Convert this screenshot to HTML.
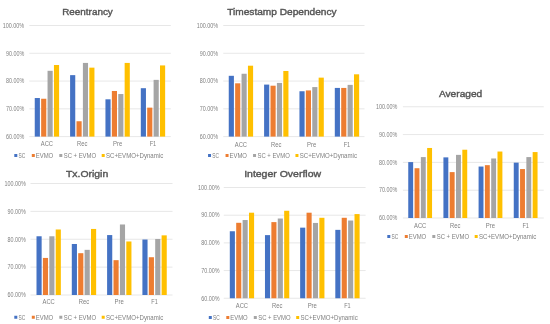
<!DOCTYPE html>
<html lang="en"><head><meta charset="utf-8"><title>Charts</title>
<style>html,body{margin:0;padding:0;background:#fff;}body{width:550px;height:324px;overflow:hidden;}svg{display:block;}</style></head>
<body>
<svg width="550" height="324" viewBox="0 0 550 324" font-family='&quot;Liberation Sans&quot;, sans-serif'>
<rect width="550" height="324" fill="#ffffff"/>
<g>
<line x1="29.30" y1="25.50" x2="170.80" y2="25.50" stroke="#d6d6d6" stroke-width="0.6"/>
<text x="24.20" y="27.80" font-size="6.5" fill="#808080" text-anchor="end" textLength="21.40" lengthAdjust="spacingAndGlyphs">100.00%</text>
<line x1="29.30" y1="53.27" x2="170.80" y2="53.27" stroke="#d6d6d6" stroke-width="0.6"/>
<text x="24.20" y="55.57" font-size="6.5" fill="#808080" text-anchor="end" textLength="18.30" lengthAdjust="spacingAndGlyphs">90.00%</text>
<line x1="29.30" y1="81.05" x2="170.80" y2="81.05" stroke="#d6d6d6" stroke-width="0.6"/>
<text x="24.20" y="83.35" font-size="6.5" fill="#808080" text-anchor="end" textLength="18.30" lengthAdjust="spacingAndGlyphs">80.00%</text>
<line x1="29.30" y1="108.82" x2="170.80" y2="108.82" stroke="#d6d6d6" stroke-width="0.6"/>
<text x="24.20" y="111.12" font-size="6.5" fill="#808080" text-anchor="end" textLength="18.30" lengthAdjust="spacingAndGlyphs">70.00%</text>
<line x1="29.30" y1="136.60" x2="170.80" y2="136.60" stroke="#d6d6d6" stroke-width="0.6"/>
<text x="24.20" y="138.90" font-size="6.5" fill="#808080" text-anchor="end" textLength="18.30" lengthAdjust="spacingAndGlyphs">60.00%</text>
<rect x="34.75" y="98.03" width="5.15" height="38.57" fill="#4472C4"/>
<rect x="41.15" y="98.75" width="5.15" height="37.85" fill="#ED7D31"/>
<rect x="47.55" y="70.81" width="5.15" height="65.79" fill="#A5A5A5"/>
<rect x="53.95" y="65.01" width="5.15" height="71.59" fill="#FFC000"/>
<text x="46.92" y="146.05" font-size="6.3" fill="#808080" text-anchor="middle" textLength="12.25" lengthAdjust="spacingAndGlyphs">ACC</text>
<rect x="70.10" y="75.14" width="5.15" height="61.45" fill="#4472C4"/>
<rect x="76.50" y="121.25" width="5.15" height="15.35" fill="#ED7D31"/>
<rect x="82.90" y="62.92" width="5.15" height="73.68" fill="#A5A5A5"/>
<rect x="89.30" y="67.65" width="5.15" height="68.95" fill="#FFC000"/>
<text x="82.27" y="146.05" font-size="6.3" fill="#808080" text-anchor="middle" textLength="10.40" lengthAdjust="spacingAndGlyphs">Rec</text>
<rect x="105.45" y="99.31" width="5.15" height="37.29" fill="#4472C4"/>
<rect x="111.85" y="90.98" width="5.15" height="45.62" fill="#ED7D31"/>
<rect x="118.25" y="94.03" width="5.15" height="42.57" fill="#A5A5A5"/>
<rect x="124.65" y="62.92" width="5.15" height="73.68" fill="#FFC000"/>
<text x="117.62" y="146.05" font-size="6.3" fill="#808080" text-anchor="middle" textLength="9.30" lengthAdjust="spacingAndGlyphs">Pre</text>
<rect x="140.80" y="88.20" width="5.15" height="48.40" fill="#4472C4"/>
<rect x="147.20" y="107.64" width="5.15" height="28.96" fill="#ED7D31"/>
<rect x="153.60" y="79.87" width="5.15" height="56.73" fill="#A5A5A5"/>
<rect x="160.00" y="65.42" width="5.15" height="71.18" fill="#FFC000"/>
<text x="152.98" y="146.05" font-size="6.3" fill="#808080" text-anchor="middle" textLength="6.50" lengthAdjust="spacingAndGlyphs">F1</text>
<text x="87.50" y="14.80" font-size="9.6" fill="#555555" stroke="#555555" stroke-width="0.4" text-anchor="middle" textLength="50.60" lengthAdjust="spacingAndGlyphs">Reentrancy</text>
<rect x="14.30" y="154.00" width="3" height="3" fill="#4472C4"/>
<text x="18.60" y="157.75" font-size="6.3" fill="#808080" textLength="6.70" lengthAdjust="spacingAndGlyphs">SC</text>
<rect x="31.80" y="154.00" width="3" height="3" fill="#ED7D31"/>
<text x="35.75" y="157.75" font-size="6.3" fill="#808080" textLength="17.40" lengthAdjust="spacingAndGlyphs">EVMO</text>
<rect x="59.30" y="154.00" width="3" height="3" fill="#A5A5A5"/>
<text x="63.75" y="157.75" font-size="6.3" fill="#808080" textLength="32.30" lengthAdjust="spacingAndGlyphs">SC + EVMO</text>
<rect x="101.70" y="154.00" width="3" height="3" fill="#FFC000"/>
<text x="106.00" y="157.75" font-size="6.3" fill="#808080" textLength="57.20" lengthAdjust="spacingAndGlyphs">SC+EVMO+Dynamic</text>
</g>
<g>
<line x1="223.25" y1="25.50" x2="364.50" y2="25.50" stroke="#d6d6d6" stroke-width="0.6"/>
<text x="218.10" y="27.80" font-size="6.5" fill="#808080" text-anchor="end" textLength="21.40" lengthAdjust="spacingAndGlyphs">100.00%</text>
<line x1="223.25" y1="53.27" x2="364.50" y2="53.27" stroke="#d6d6d6" stroke-width="0.6"/>
<text x="218.10" y="55.57" font-size="6.5" fill="#808080" text-anchor="end" textLength="18.30" lengthAdjust="spacingAndGlyphs">90.00%</text>
<line x1="223.25" y1="81.05" x2="364.50" y2="81.05" stroke="#d6d6d6" stroke-width="0.6"/>
<text x="218.10" y="83.35" font-size="6.5" fill="#808080" text-anchor="end" textLength="18.30" lengthAdjust="spacingAndGlyphs">80.00%</text>
<line x1="223.25" y1="108.82" x2="364.50" y2="108.82" stroke="#d6d6d6" stroke-width="0.6"/>
<text x="218.10" y="111.12" font-size="6.5" fill="#808080" text-anchor="end" textLength="18.30" lengthAdjust="spacingAndGlyphs">70.00%</text>
<line x1="223.25" y1="136.60" x2="364.50" y2="136.60" stroke="#d6d6d6" stroke-width="0.6"/>
<text x="218.10" y="138.90" font-size="6.5" fill="#808080" text-anchor="end" textLength="18.30" lengthAdjust="spacingAndGlyphs">60.00%</text>
<rect x="228.75" y="75.81" width="5.15" height="60.79" fill="#4472C4"/>
<rect x="235.15" y="83.31" width="5.15" height="53.29" fill="#ED7D31"/>
<rect x="241.55" y="73.76" width="5.15" height="62.84" fill="#A5A5A5"/>
<rect x="247.95" y="65.70" width="5.15" height="70.90" fill="#FFC000"/>
<text x="240.93" y="146.55" font-size="6.3" fill="#808080" text-anchor="middle" textLength="12.25" lengthAdjust="spacingAndGlyphs">ACC</text>
<rect x="264.10" y="84.59" width="5.15" height="52.01" fill="#4472C4"/>
<rect x="270.50" y="85.70" width="5.15" height="50.90" fill="#ED7D31"/>
<rect x="276.90" y="82.92" width="5.15" height="53.68" fill="#A5A5A5"/>
<rect x="283.30" y="70.98" width="5.15" height="65.62" fill="#FFC000"/>
<text x="276.28" y="146.55" font-size="6.3" fill="#808080" text-anchor="middle" textLength="10.40" lengthAdjust="spacingAndGlyphs">Rec</text>
<rect x="299.45" y="91.25" width="5.15" height="45.35" fill="#4472C4"/>
<rect x="305.85" y="90.42" width="5.15" height="46.18" fill="#ED7D31"/>
<rect x="312.25" y="87.09" width="5.15" height="49.51" fill="#A5A5A5"/>
<rect x="318.65" y="77.64" width="5.15" height="58.96" fill="#FFC000"/>
<text x="311.62" y="146.55" font-size="6.3" fill="#808080" text-anchor="middle" textLength="9.30" lengthAdjust="spacingAndGlyphs">Pre</text>
<rect x="334.80" y="87.92" width="5.15" height="48.68" fill="#4472C4"/>
<rect x="341.20" y="87.92" width="5.15" height="48.68" fill="#ED7D31"/>
<rect x="347.60" y="84.87" width="5.15" height="51.73" fill="#A5A5A5"/>
<rect x="354.00" y="74.31" width="5.15" height="62.29" fill="#FFC000"/>
<text x="346.98" y="146.55" font-size="6.3" fill="#808080" text-anchor="middle" textLength="6.50" lengthAdjust="spacingAndGlyphs">F1</text>
<text x="281.90" y="14.80" font-size="9.6" fill="#555555" stroke="#555555" stroke-width="0.4" text-anchor="middle" textLength="109.40" lengthAdjust="spacingAndGlyphs">Timestamp Dependency</text>
<rect x="208.05" y="154.00" width="3" height="3" fill="#4472C4"/>
<text x="212.35" y="157.75" font-size="6.3" fill="#808080" textLength="6.70" lengthAdjust="spacingAndGlyphs">SC</text>
<rect x="225.55" y="154.00" width="3" height="3" fill="#ED7D31"/>
<text x="229.50" y="157.75" font-size="6.3" fill="#808080" textLength="17.40" lengthAdjust="spacingAndGlyphs">EVMO</text>
<rect x="253.05" y="154.00" width="3" height="3" fill="#A5A5A5"/>
<text x="257.50" y="157.75" font-size="6.3" fill="#808080" textLength="32.30" lengthAdjust="spacingAndGlyphs">SC + EVMO</text>
<rect x="295.45" y="154.00" width="3" height="3" fill="#FFC000"/>
<text x="299.75" y="157.75" font-size="6.3" fill="#808080" textLength="57.20" lengthAdjust="spacingAndGlyphs">SC+EVMO+Dynamic</text>
</g>
<g>
<line x1="30.50" y1="183.50" x2="172.50" y2="183.50" stroke="#d6d6d6" stroke-width="0.6"/>
<text x="25.80" y="185.80" font-size="6.5" fill="#808080" text-anchor="end" textLength="21.40" lengthAdjust="spacingAndGlyphs">100.00%</text>
<line x1="30.50" y1="211.38" x2="172.50" y2="211.38" stroke="#d6d6d6" stroke-width="0.6"/>
<text x="25.80" y="213.68" font-size="6.5" fill="#808080" text-anchor="end" textLength="18.30" lengthAdjust="spacingAndGlyphs">90.00%</text>
<line x1="30.50" y1="239.25" x2="172.50" y2="239.25" stroke="#d6d6d6" stroke-width="0.6"/>
<text x="25.80" y="241.55" font-size="6.5" fill="#808080" text-anchor="end" textLength="18.30" lengthAdjust="spacingAndGlyphs">80.00%</text>
<line x1="30.50" y1="267.12" x2="172.50" y2="267.12" stroke="#d6d6d6" stroke-width="0.6"/>
<text x="25.80" y="269.43" font-size="6.5" fill="#808080" text-anchor="end" textLength="18.30" lengthAdjust="spacingAndGlyphs">70.00%</text>
<line x1="30.50" y1="295.00" x2="172.50" y2="295.00" stroke="#d6d6d6" stroke-width="0.6"/>
<text x="25.80" y="297.30" font-size="6.5" fill="#808080" text-anchor="end" textLength="18.30" lengthAdjust="spacingAndGlyphs">60.00%</text>
<rect x="36.50" y="236.27" width="5.15" height="58.73" fill="#4472C4"/>
<rect x="42.90" y="257.93" width="5.15" height="37.07" fill="#ED7D31"/>
<rect x="49.30" y="236.27" width="5.15" height="58.73" fill="#A5A5A5"/>
<rect x="55.70" y="229.49" width="5.15" height="65.51" fill="#FFC000"/>
<text x="48.67" y="304.10" font-size="6.3" fill="#808080" text-anchor="middle" textLength="12.25" lengthAdjust="spacingAndGlyphs">ACC</text>
<rect x="71.80" y="243.99" width="5.15" height="51.01" fill="#4472C4"/>
<rect x="78.20" y="253.19" width="5.15" height="41.81" fill="#ED7D31"/>
<rect x="84.60" y="249.84" width="5.15" height="45.16" fill="#A5A5A5"/>
<rect x="91.00" y="228.94" width="5.15" height="66.06" fill="#FFC000"/>
<text x="83.97" y="304.10" font-size="6.3" fill="#808080" text-anchor="middle" textLength="10.40" lengthAdjust="spacingAndGlyphs">Rec</text>
<rect x="107.10" y="235.07" width="5.15" height="59.93" fill="#4472C4"/>
<rect x="113.50" y="260.16" width="5.15" height="34.84" fill="#ED7D31"/>
<rect x="119.90" y="224.48" width="5.15" height="70.52" fill="#A5A5A5"/>
<rect x="126.30" y="241.48" width="5.15" height="53.52" fill="#FFC000"/>
<text x="119.27" y="304.10" font-size="6.3" fill="#808080" text-anchor="middle" textLength="9.30" lengthAdjust="spacingAndGlyphs">Pre</text>
<rect x="142.40" y="239.53" width="5.15" height="55.47" fill="#4472C4"/>
<rect x="148.80" y="257.23" width="5.15" height="37.77" fill="#ED7D31"/>
<rect x="155.20" y="238.97" width="5.15" height="56.03" fill="#A5A5A5"/>
<rect x="161.60" y="235.35" width="5.15" height="59.65" fill="#FFC000"/>
<text x="154.57" y="304.10" font-size="6.3" fill="#808080" text-anchor="middle" textLength="6.50" lengthAdjust="spacingAndGlyphs">F1</text>
<text x="87.10" y="176.50" font-size="9.6" fill="#555555" stroke="#555555" stroke-width="0.4" text-anchor="middle" textLength="42.30" lengthAdjust="spacingAndGlyphs">Tx.Origin</text>
<rect x="14.30" y="315.75" width="3" height="3" fill="#4472C4"/>
<text x="18.60" y="319.50" font-size="6.3" fill="#808080" textLength="6.70" lengthAdjust="spacingAndGlyphs">SC</text>
<rect x="31.80" y="315.75" width="3" height="3" fill="#ED7D31"/>
<text x="35.75" y="319.50" font-size="6.3" fill="#808080" textLength="17.40" lengthAdjust="spacingAndGlyphs">EVMO</text>
<rect x="59.30" y="315.75" width="3" height="3" fill="#A5A5A5"/>
<text x="63.75" y="319.50" font-size="6.3" fill="#808080" textLength="32.30" lengthAdjust="spacingAndGlyphs">SC + EVMO</text>
<rect x="101.70" y="315.75" width="3" height="3" fill="#FFC000"/>
<text x="106.00" y="319.50" font-size="6.3" fill="#808080" textLength="57.20" lengthAdjust="spacingAndGlyphs">SC+EVMO+Dynamic</text>
</g>
<g>
<line x1="223.75" y1="187.50" x2="365.60" y2="187.50" stroke="#d6d6d6" stroke-width="0.6"/>
<text x="219.50" y="189.80" font-size="6.5" fill="#808080" text-anchor="end" textLength="21.40" lengthAdjust="spacingAndGlyphs">100.00%</text>
<line x1="223.75" y1="215.19" x2="365.60" y2="215.19" stroke="#d6d6d6" stroke-width="0.6"/>
<text x="219.50" y="217.49" font-size="6.5" fill="#808080" text-anchor="end" textLength="18.30" lengthAdjust="spacingAndGlyphs">90.00%</text>
<line x1="223.75" y1="242.88" x2="365.60" y2="242.88" stroke="#d6d6d6" stroke-width="0.6"/>
<text x="219.50" y="245.18" font-size="6.5" fill="#808080" text-anchor="end" textLength="18.30" lengthAdjust="spacingAndGlyphs">80.00%</text>
<line x1="223.75" y1="270.56" x2="365.60" y2="270.56" stroke="#d6d6d6" stroke-width="0.6"/>
<text x="219.50" y="272.86" font-size="6.5" fill="#808080" text-anchor="end" textLength="18.30" lengthAdjust="spacingAndGlyphs">70.00%</text>
<line x1="223.75" y1="298.25" x2="365.60" y2="298.25" stroke="#d6d6d6" stroke-width="0.6"/>
<text x="219.50" y="300.55" font-size="6.5" fill="#808080" text-anchor="end" textLength="18.30" lengthAdjust="spacingAndGlyphs">60.00%</text>
<rect x="229.80" y="231.25" width="5.10" height="67.00" fill="#4472C4"/>
<rect x="236.20" y="222.80" width="5.10" height="75.45" fill="#ED7D31"/>
<rect x="242.60" y="220.03" width="5.10" height="78.22" fill="#A5A5A5"/>
<rect x="249.00" y="212.70" width="5.10" height="85.55" fill="#FFC000"/>
<text x="241.95" y="307.55" font-size="6.3" fill="#808080" text-anchor="middle" textLength="12.25" lengthAdjust="spacingAndGlyphs">ACC</text>
<rect x="264.97" y="235.12" width="5.10" height="63.13" fill="#4472C4"/>
<rect x="271.37" y="222.11" width="5.10" height="76.14" fill="#ED7D31"/>
<rect x="277.77" y="218.51" width="5.10" height="79.74" fill="#A5A5A5"/>
<rect x="284.17" y="210.76" width="5.10" height="87.49" fill="#FFC000"/>
<text x="277.12" y="307.55" font-size="6.3" fill="#808080" text-anchor="middle" textLength="10.40" lengthAdjust="spacingAndGlyphs">Rec</text>
<rect x="300.14" y="227.65" width="5.10" height="70.60" fill="#4472C4"/>
<rect x="306.54" y="212.70" width="5.10" height="85.55" fill="#ED7D31"/>
<rect x="312.94" y="222.94" width="5.10" height="75.31" fill="#A5A5A5"/>
<rect x="319.34" y="217.79" width="5.10" height="80.46" fill="#FFC000"/>
<text x="312.29" y="307.55" font-size="6.3" fill="#808080" text-anchor="middle" textLength="9.30" lengthAdjust="spacingAndGlyphs">Pre</text>
<rect x="335.31" y="229.86" width="5.10" height="68.39" fill="#4472C4"/>
<rect x="341.71" y="217.79" width="5.10" height="80.46" fill="#ED7D31"/>
<rect x="348.11" y="220.53" width="5.10" height="77.72" fill="#A5A5A5"/>
<rect x="354.51" y="214.08" width="5.10" height="84.17" fill="#FFC000"/>
<text x="347.46" y="307.55" font-size="6.3" fill="#808080" text-anchor="middle" textLength="6.50" lengthAdjust="spacingAndGlyphs">F1</text>
<text x="282.60" y="176.50" font-size="9.6" fill="#555555" stroke="#555555" stroke-width="0.4" text-anchor="middle" textLength="76.90" lengthAdjust="spacingAndGlyphs">Integer Overflow</text>
<rect x="208.80" y="316.00" width="3" height="3" fill="#4472C4"/>
<text x="213.10" y="319.75" font-size="6.3" fill="#808080" textLength="6.70" lengthAdjust="spacingAndGlyphs">SC</text>
<rect x="226.30" y="316.00" width="3" height="3" fill="#ED7D31"/>
<text x="230.25" y="319.75" font-size="6.3" fill="#808080" textLength="17.40" lengthAdjust="spacingAndGlyphs">EVMO</text>
<rect x="253.80" y="316.00" width="3" height="3" fill="#A5A5A5"/>
<text x="258.25" y="319.75" font-size="6.3" fill="#808080" textLength="32.30" lengthAdjust="spacingAndGlyphs">SC + EVMO</text>
<rect x="296.20" y="316.00" width="3" height="3" fill="#FFC000"/>
<text x="300.50" y="319.75" font-size="6.3" fill="#808080" textLength="57.20" lengthAdjust="spacingAndGlyphs">SC+EVMO+Dynamic</text>
</g>
<g>
<line x1="402.90" y1="106.75" x2="543.75" y2="106.75" stroke="#d6d6d6" stroke-width="0.6"/>
<text x="397.30" y="109.05" font-size="6.5" fill="#808080" text-anchor="end" textLength="21.40" lengthAdjust="spacingAndGlyphs">100.00%</text>
<line x1="402.90" y1="134.56" x2="543.75" y2="134.56" stroke="#d6d6d6" stroke-width="0.6"/>
<text x="397.30" y="136.86" font-size="6.5" fill="#808080" text-anchor="end" textLength="18.30" lengthAdjust="spacingAndGlyphs">90.00%</text>
<line x1="402.90" y1="162.38" x2="543.75" y2="162.38" stroke="#d6d6d6" stroke-width="0.6"/>
<text x="397.30" y="164.68" font-size="6.5" fill="#808080" text-anchor="end" textLength="18.30" lengthAdjust="spacingAndGlyphs">80.00%</text>
<line x1="402.90" y1="190.19" x2="543.75" y2="190.19" stroke="#d6d6d6" stroke-width="0.6"/>
<text x="397.30" y="192.49" font-size="6.5" fill="#808080" text-anchor="end" textLength="18.30" lengthAdjust="spacingAndGlyphs">70.00%</text>
<line x1="402.90" y1="218.00" x2="543.75" y2="218.00" stroke="#d6d6d6" stroke-width="0.6"/>
<text x="397.30" y="220.30" font-size="6.5" fill="#808080" text-anchor="end" textLength="18.30" lengthAdjust="spacingAndGlyphs">60.00%</text>
<rect x="408.25" y="162.10" width="4.90" height="55.90" fill="#4472C4"/>
<rect x="414.55" y="168.22" width="4.90" height="49.78" fill="#ED7D31"/>
<rect x="420.85" y="157.09" width="4.90" height="60.91" fill="#A5A5A5"/>
<rect x="427.15" y="147.97" width="4.90" height="70.03" fill="#FFC000"/>
<text x="420.15" y="227.95" font-size="6.3" fill="#808080" text-anchor="middle" textLength="12.25" lengthAdjust="spacingAndGlyphs">ACC</text>
<rect x="443.42" y="157.37" width="4.90" height="60.63" fill="#4472C4"/>
<rect x="449.72" y="172.11" width="4.90" height="45.89" fill="#ED7D31"/>
<rect x="456.02" y="154.87" width="4.90" height="63.13" fill="#A5A5A5"/>
<rect x="462.32" y="149.72" width="4.90" height="68.28" fill="#FFC000"/>
<text x="455.32" y="227.95" font-size="6.3" fill="#808080" text-anchor="middle" textLength="10.40" lengthAdjust="spacingAndGlyphs">Rec</text>
<rect x="478.59" y="166.55" width="4.90" height="51.45" fill="#4472C4"/>
<rect x="484.89" y="165.16" width="4.90" height="52.84" fill="#ED7D31"/>
<rect x="491.19" y="158.48" width="4.90" height="59.52" fill="#A5A5A5"/>
<rect x="497.49" y="151.53" width="4.90" height="66.47" fill="#FFC000"/>
<text x="490.49" y="227.95" font-size="6.3" fill="#808080" text-anchor="middle" textLength="9.30" lengthAdjust="spacingAndGlyphs">Pre</text>
<rect x="513.76" y="162.65" width="4.90" height="55.35" fill="#4472C4"/>
<rect x="520.06" y="169.05" width="4.90" height="48.95" fill="#ED7D31"/>
<rect x="526.36" y="157.09" width="4.90" height="60.91" fill="#A5A5A5"/>
<rect x="532.66" y="152.08" width="4.90" height="65.92" fill="#FFC000"/>
<text x="525.66" y="227.95" font-size="6.3" fill="#808080" text-anchor="middle" textLength="6.50" lengthAdjust="spacingAndGlyphs">F1</text>
<text x="460.60" y="96.60" font-size="9.6" fill="#555555" stroke="#555555" stroke-width="0.4" text-anchor="middle" textLength="43.30" lengthAdjust="spacingAndGlyphs">Averaged</text>
<rect x="387.30" y="235.00" width="3" height="3" fill="#4472C4"/>
<text x="391.60" y="238.75" font-size="6.3" fill="#808080" textLength="6.70" lengthAdjust="spacingAndGlyphs">SC</text>
<rect x="404.80" y="235.00" width="3" height="3" fill="#ED7D31"/>
<text x="408.75" y="238.75" font-size="6.3" fill="#808080" textLength="17.40" lengthAdjust="spacingAndGlyphs">EVMO</text>
<rect x="432.30" y="235.00" width="3" height="3" fill="#A5A5A5"/>
<text x="436.75" y="238.75" font-size="6.3" fill="#808080" textLength="32.30" lengthAdjust="spacingAndGlyphs">SC + EVMO</text>
<rect x="474.70" y="235.00" width="3" height="3" fill="#FFC000"/>
<text x="479.00" y="238.75" font-size="6.3" fill="#808080" textLength="57.20" lengthAdjust="spacingAndGlyphs">SC+EVMO+Dynamic</text>
</g>
</svg>
</body></html>
